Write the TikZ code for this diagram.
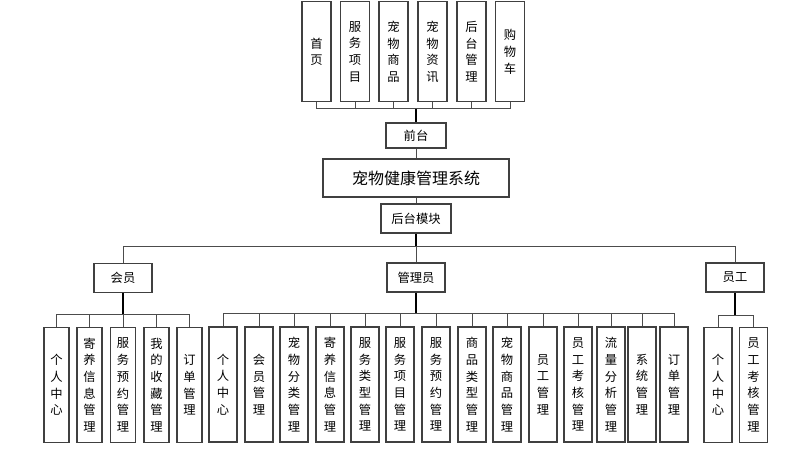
\documentclass[tikz,border=0pt]{standalone}
\usepackage{fontspec}
\setmainfont{Noto Sans CJK SC}

\begin{document}
\begin{tikzpicture}[x=1pt, y=-1pt, font=\fontsize{12.3}{16.7}\selectfont,
	bx/.style={draw=black!75, line width=1.4pt, inner sep=0pt, align=center},
	top/.style={bx, minimum width=29pt, minimum height=100pt},
	leaf/.style={bx, minimum width=28pt, minimum height=115pt},
	mid/.style={bx, minimum width=58pt, minimum height=29pt},
	tr/.style={line width=1.4pt},
	br/.style={draw=black!70, line width=1pt}]
	\useasboundingbox (0,0) rectangle (803,454);

	% front pages
	\node[top] (T1) at (316.5,51.75) {首\\页};
	\node[top] (T2) at (355,51.75) {服\\务\\项\\目};
	\node[top] (T3) at (393.5,51.75) {宠\\物\\商\\品};
	\node[top] (T4) at (432.5,51.75) {宠\\物\\资\\讯};
	\node[top] (T5) at (471.5,51.75) {后\\台\\管\\理};
	\node[top] (T6) at (510,51.75) {购\\物\\车};

	\node[mid, minimum width=60pt, minimum height=25pt] (QT) at (416,135.5) {前台};
	\node[bx, minimum width=186pt, minimum height=38pt, font=\fontsize{16}{18}\selectfont] (SYS) at (416,178) {宠物健康管理系统};
	\node[mid, minimum width=70pt] (HT) at (416,218.5) {后台模块};

	% roles
	\node[mid] (HY) at (123,278) {会员};
	\node[mid] (GL) at (416,277.5) {管理员};
	\node[mid] (YG) at (735,277.5) {员工};

	% member
	\node[leaf, minimum width=25pt] (M1) at (56.5,385) {个\\人\\中\\心};
	\node[leaf, minimum width=25pt] (M2) at (89.5,385) {寄\\养\\信\\息\\管\\理};
	\node[leaf, minimum width=25pt] (M3) at (123,385) {服\\务\\预\\约\\管\\理};
	\node[leaf, minimum width=25pt] (M4) at (156.5,385) {我\\的\\收\\藏\\管\\理};
	\node[leaf, minimum width=25pt] (M5) at (189.5,385) {订\\单\\管\\理};

	% admin
	\node[leaf] (A1) at (223,384.5) {个\\人\\中\\心};
	\node[leaf] (A2) at (259,384.5) {会\\员\\管\\理};
	\node[leaf] (A3) at (294,384.5) {宠\\物\\分\\类\\管\\理};
	\node[leaf] (A4) at (330,384.5) {寄\\养\\信\\息\\管\\理};
	\node[leaf] (A5) at (365,384.5) {服\\务\\类\\型\\管\\理};
	\node[leaf] (A6) at (400,384.5) {服\\务\\项\\目\\管\\理};
	\node[leaf] (A7) at (436,384.5) {服\\务\\预\\约\\管\\理};
	\node[leaf] (A8) at (472,384.5) {商\\品\\类\\型\\管\\理};
	\node[leaf] (A9) at (507,384.5) {宠\\物\\商\\品\\管\\理};
	\node[leaf] (A10) at (543,384.5) {员\\工\\管\\理};
	\node[leaf] (A11) at (578,384.5) {员\\工\\考\\核\\管\\理};
	\node[leaf] (A12) at (611,384.5) {流\\量\\分\\析\\管\\理};
	\node[leaf] (A13) at (642,384.5) {系\\统\\管\\理};
	\node[leaf] (A14) at (674,384.5) {订\\单\\管\\理};

	% staff
	\node[leaf] (S1) at (718,385) {个\\人\\中\\心};
	\node[leaf] (S2) at (753.5,385) {员\\工\\考\\核\\管\\理};

	% junctions
	\coordinate (J1) at (416,109);
	\coordinate (J2) at (416,247);
	\coordinate (J3) at (123,314);
	\coordinate (J4) at (416,313);
	\coordinate (J5) at (735,315);

	\foreach \n in {T1,T2,T3,T4,T5,T6} \draw[br] (\n.south) |- (J1);
	\draw[tr] (J1) -- (QT.north);
	\draw[br] (QT.south) -- (SYS.north);
	\draw[br] (SYS.south) -- (HT.north);
	\draw[tr] (HT.south) -- (J2);
	\foreach \n in {HY,GL,YG} \draw[br] (\n.north) |- (J2);

	\draw[tr] (HY.south) -- (J3);
	\foreach \n in {M1,M2,M3,M4,M5} \draw[br] (\n.north) |- (J3);
	\draw[tr] (GL.south) -- (J4);
	\foreach \n in {A1,A2,A3,A4,A5,A6,A7,A8,A9,A10,A11,A12,A13,A14} \draw[br] (\n.north) |- (J4);
	\draw[tr] (YG.south) -- (J5);
	\foreach \n in {S1,S2} \draw[br] (\n.north) |- (J5);
\end{tikzpicture}
\end{document}
